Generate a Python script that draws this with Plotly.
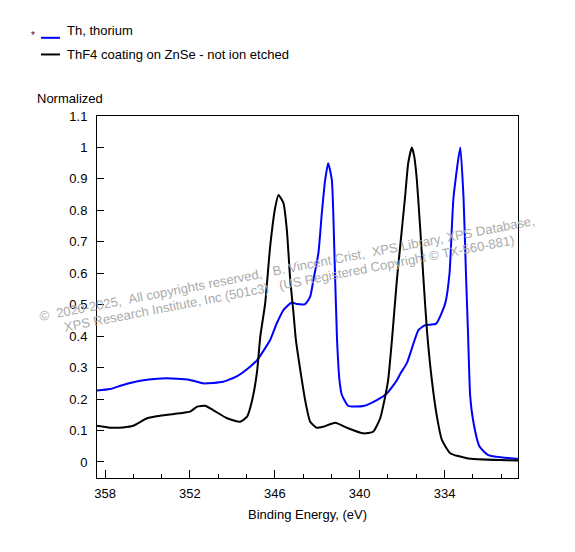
import plotly.graph_objects as go

# ---- data (binding energy eV, normalized intensity) ----
th_be = [358.57, 357.65, 356.73, 355.52, 354.32, 352.91, 351.99, 351.07, 349.65, 348.66,
         347.75, 347.25, 346.33, 345.86, 345.39, 344.80, 344.44, 343.86, 343.50, 343.27,
         342.92, 342.68, 342.44, 342.23, 341.97, 341.80, 341.61, 341.43, 341.26, 340.79,
         339.73, 338.79, 338.08, 337.37, 337.14, 336.66, 335.84, 335.37, 334.59, 333.95,
         333.65, 333.37, 332.89, 332.66, 332.49, 332.35, 332.19, 331.95, 331.53, 330.91,
         329.36, 328.81]
th_val = [0.227, 0.232, 0.245, 0.258, 0.265, 0.265, 0.261, 0.250, 0.255, 0.273,
          0.303, 0.324, 0.388, 0.441, 0.483, 0.507, 0.502, 0.502, 0.526, 0.579,
          0.664, 0.790, 0.897, 0.950, 0.897, 0.685, 0.398, 0.260, 0.213, 0.178,
          0.178, 0.197, 0.218, 0.260, 0.280, 0.315, 0.420, 0.435, 0.440, 0.505,
          0.600, 0.840, 1.000, 0.840, 0.600, 0.420, 0.210, 0.124, 0.049, 0.022,
          0.012, 0.010]

thf4_be = [358.57, 357.65, 356.73, 356.02, 355.03, 354.11, 352.70, 351.99, 351.49, 350.93,
           350.36, 349.37, 348.45, 347.96, 347.60, 347.25, 347.03, 346.68, 346.33, 345.97,
           345.74, 345.39, 345.15, 344.91, 344.68, 344.51, 344.09, 343.86, 343.50, 343.03,
           342.58, 341.73, 340.91, 339.75, 339.05, 338.55, 338.20, 337.99, 337.72, 337.37,
           337.14, 336.79, 336.57, 336.31, 336.14, 335.96, 335.72, 335.49, 335.25, 334.90,
           334.54, 334.19, 333.60, 332.42, 330.07, 328.81]
thf4_val = [0.115, 0.109, 0.110, 0.115, 0.139, 0.147, 0.155, 0.160, 0.176, 0.179,
            0.165, 0.139, 0.128, 0.144, 0.197, 0.290, 0.398, 0.505, 0.685, 0.810,
            0.849, 0.823, 0.738, 0.579, 0.473, 0.388, 0.260, 0.197, 0.128, 0.109,
            0.112, 0.125, 0.109, 0.091, 0.096, 0.139, 0.208, 0.260, 0.388, 0.580,
            0.685, 0.844, 0.950, 1.000, 0.970, 0.897, 0.740, 0.580, 0.420, 0.260,
            0.144, 0.070, 0.028, 0.012, 0.006, 0.005]

x_ticks = [358, 352, 346, 340, 334]
y_ticks = [0, 0.1, 0.2, 0.3, 0.4, 0.5, 0.6, 0.7, 0.8, 0.9, 1, 1.1]
y_tick_labels = ["0", "0.1", "0.2", "0.3", "0.4", "0.5", "0.6", "0.7", "0.8", "0.9", "1", "1.1"]

legend_names = ["Th, thorium", "ThF4 coating on ZnSe - not ion etched"]
NB = "\u00a0"
watermark = ["©" + NB * 2 + "2020-2025," + NB * 2 + "All copyrights reserved," + NB * 3
             + "B. Vincent Crist," + NB * 2 + "XPS Library, XPS Database,",
             "XPS Research Institute, Inc (501c3)" + NB * 3
             + "(US Registered Copyright © TX-560-881)"]

FONT = "Liberation Sans, Arial, sans-serif"
FS = 13

fig = go.Figure()
fig.add_trace(go.Scatter(x=th_be, y=th_val, mode="lines", name=legend_names[0],
                         line=dict(color="#0000FF", width=2, shape="spline", smoothing=0.5),
                         showlegend=False))
fig.add_trace(go.Scatter(x=thf4_be, y=thf4_val, mode="lines", name=legend_names[1],
                         line=dict(color="#000000", width=2, shape="spline", smoothing=0.5),
                         showlegend=False))

fig.update_layout(
    width=575, height=552,
    margin=dict(l=97, r=57, t=116, b=74),
    paper_bgcolor="white", plot_bgcolor="white",
    font=dict(family=FONT, size=FS, color="black"),
    xaxis=dict(range=[358.57, 328.81], tickvals=x_ticks, ticktext=[str(v) for v in x_ticks],
               ticks="inside", ticklen=8, tickwidth=1, tickcolor="black",
               showline=True, linecolor="black", linewidth=1, mirror=True,
               showgrid=False, zeroline=False, ticklabelstandoff=3,
               minor=dict(tick0=358, dtick=2, ticks="inside", ticklen=4, tickcolor="black", showgrid=False),
               title=dict(text="Binding Energy, (eV)", font=dict(size=FS), standoff=10)),
    yaxis=dict(range=[-0.0509, 1.1], tickvals=y_ticks, ticktext=y_tick_labels,
               ticks="inside", ticklen=7, tickwidth=1, tickcolor="black",
               showline=True, linecolor="black", linewidth=1, mirror=True,
               showgrid=False, zeroline=False, ticklabelstandoff=6),
)

# y axis label
fig.add_annotation(text="Normalized", xref="paper", yref="paper", x=-0.148, y=1.0,
                   xanchor="left", yanchor="bottom", yshift=8, showarrow=False,
                   font=dict(size=FS))

# legend (manual)
fig.add_annotation(text="*", xref="paper", yref="paper", x=-0.152, y=1.222,
                   xanchor="center", yanchor="middle", showarrow=False,
                   font=dict(size=10, color="#700000"))
fig.add_shape(type="line", xref="paper", yref="paper", x0=-0.133, x1=-0.088, y0=1.216, y1=1.216,
              line=dict(color="#0000FF", width=2))
fig.add_shape(type="line", xref="paper", yref="paper", x0=-0.133, x1=-0.088, y0=1.170, y1=1.170,
              line=dict(color="#000000", width=2))
fig.add_annotation(text=legend_names[0], xref="paper", yref="paper", x=-0.076, y=1.235,
                   xanchor="left", yanchor="middle", showarrow=False, font=dict(size=FS))
fig.add_annotation(text=legend_names[1], xref="paper", yref="paper", x=-0.076, y=1.171,
                   xanchor="left", yanchor="middle", showarrow=False, font=dict(size=FS))

# watermark
fig.add_annotation(text=watermark[0], xref="paper", yref="paper", x=0.452, y=0.579,
                   textangle=-11, showarrow=False, font=dict(size=13.1, color="#ababab"))
fig.add_annotation(text=watermark[1], xref="paper", yref="paper", x=0.457, y=0.537,
                   textangle=-11, showarrow=False, font=dict(size=13.1, color="#ababab"))

fig.write_html("out.html")
